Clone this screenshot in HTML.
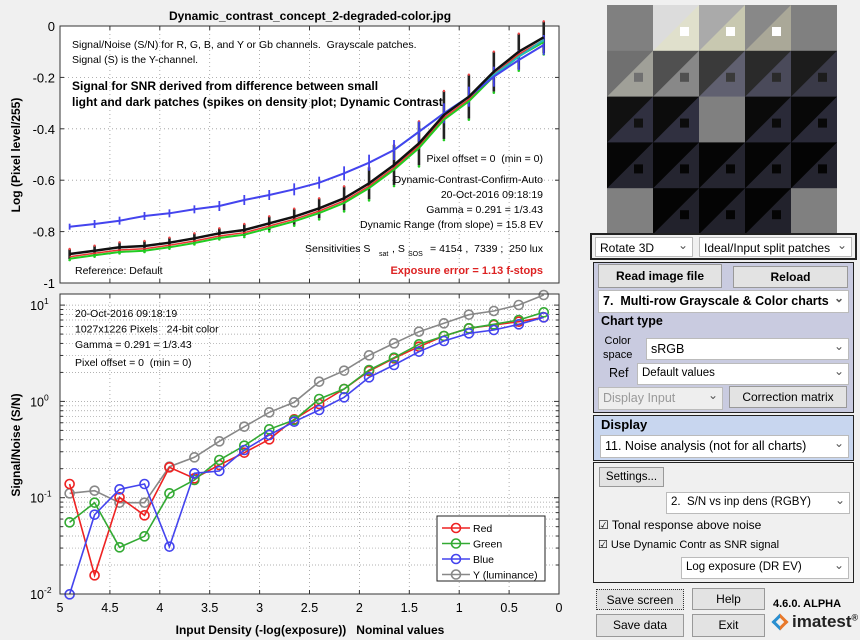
<!DOCTYPE html>
<html><head><meta charset="utf-8">
<style>
body{margin:0;width:860px;height:640px;background:#f0f0f0;font-family:"Liberation Sans",sans-serif;position:relative;overflow:hidden}
.a{position:absolute;box-sizing:border-box}
.sel{position:absolute;box-sizing:border-box;background:#fff;border:1px solid #bbb;font-size:12px;padding:3px 4px;white-space:nowrap;overflow:hidden}
.sel:after{content:"⌄";position:absolute;right:4px;top:0px;color:#555;font-size:12px}
.btn{position:absolute;box-sizing:border-box;background:#e3e3e3;border:1px solid #999;font-size:12px;text-align:center;line-height:20px}
svg text{white-space:pre}
</style></head><body>
<svg id="s" width="590" height="640" style="position:absolute;left:0;top:0" font-family="Liberation Sans, sans-serif"></svg>

<svg class="a" style="left:607px;top:5px" width="230" height="229">
<g id="g"></g>
</svg>

<div class="a" style="left:590px;top:233px;width:267px;height:27px;border:2px solid #222;background:#f0f0f0"></div>
<div class="sel" style="left:595px;top:237px;width:98px;height:20px">Rotate 3D</div>
<div class="sel" style="left:699px;top:237px;width:153px;height:20px">Ideal/Input split patches</div>

<div class="a" style="left:593px;top:262px;width:261px;height:151px;border:1px solid #222;background:#c9cbe0"></div>
<div class="btn" style="left:598px;top:264px;width:124px;height:24px;font-weight:bold;line-height:22px">Read image file</div>
<div class="btn" style="left:733px;top:266px;width:115px;height:22px;font-weight:bold">Reload</div>
<div class="sel" style="left:598px;top:290px;width:251px;height:23px;font-weight:bold;font-size:12.5px">7.&nbsp; Multi-row Grayscale &amp; Color charts</div>
<div class="a" style="left:601px;top:314px;font-size:12.5px;font-weight:bold">Chart type</div>
<div class="a" style="left:603px;top:334px;font-size:11px;text-align:center;line-height:14px">Color<br>space</div>
<div class="sel" style="left:646px;top:338px;width:203px;height:22px;font-size:12.5px">sRGB</div>
<div class="a" style="left:609px;top:366px;font-size:12.5px">Ref</div>
<div class="sel" style="left:637px;top:363px;width:212px;height:22px;font-size:11.5px">Default values</div>
<div class="sel" style="left:598px;top:387px;width:125px;height:23px;color:#999;background:#eee;font-size:12.5px">Display Input</div>
<div class="btn" style="left:729px;top:386px;width:118px;height:22px">Correction matrix</div>

<div class="a" style="left:593px;top:415px;width:261px;height:46px;border:1px solid #222;background:#c8d6ef"></div>
<div class="a" style="left:601px;top:417px;font-size:13px;font-weight:bold">Display</div>
<div class="sel" style="left:600px;top:435px;width:249px;height:23px;font-size:12.5px">11. Noise analysis (not for all charts)</div>

<div class="a" style="left:593px;top:462px;width:261px;height:121px;border:1px solid #222;background:#f0f0f0"></div>
<div class="btn" style="left:599px;top:467px;width:65px;height:20px;line-height:18px;font-size:11.5px">Settings...</div>
<div class="sel" style="left:666px;top:492px;width:184px;height:22px;font-size:11.5px">2.&nbsp; S/N vs inp dens (RGBY)</div>
<div class="a" style="left:598px;top:518px;font-size:12px">&#9745; Tonal response above noise</div>
<div class="a" style="left:598px;top:538px;font-size:11px">&#9745; Use Dynamic Contr as SNR signal</div>
<div class="sel" style="left:681px;top:557px;width:168px;height:22px;font-size:11.5px">Log exposure (DR EV)</div>

<div class="btn" style="left:596px;top:589px;width:88px;height:21px;border:1px dotted #333">Save screen</div>
<div class="btn" style="left:692px;top:588px;width:73px;height:22px">Help</div>
<div class="btn" style="left:596px;top:614px;width:88px;height:23px">Save data</div>
<div class="btn" style="left:692px;top:614px;width:73px;height:23px">Exit</div>
<div class="a" style="left:773px;top:598px;font-size:11px;font-weight:bold">4.6.0. ALPHA</div>
<div class="a" style="left:772px;top:614px;width:16px;height:16px;border:4px solid #e8792b;border-left-color:#2a8fd0;border-bottom-color:#2a8fd0;transform:rotate(45deg) scale(.75)"></div>
<div class="a" style="left:792px;top:612px;font-size:17px;font-weight:bold;color:#222">imatest<sup style="font-size:9px">®</sup></div>

<script>
const NS="http://www.w3.org/2000/svg";
const s=document.getElementById('s');
function el(t,a,txt){const e=document.createElementNS(NS,t);for(const k in a)e.setAttribute(k,a[k]);if(txt!=null)e.textContent=txt;s.appendChild(e);return e;}
const L=60,R=559;
const GX=i=>L+i*(R-L)/10;
// ---- top plot
const T0=26,T1=283;
el('rect',{x:L,y:T0,width:R-L,height:T1-T0,fill:'#fff'});
for(let i=1;i<10;i++){const x=GX(i);el('line',{x1:x,x2:x,y1:T0,y2:T1,stroke:'#999','stroke-dasharray':'1,3','stroke-width':0.8});}
for(let i=1;i<5;i++){const y=T0+i*(T1-T0)/5;el('line',{x1:L,x2:R,y1:y,y2:y,stroke:'#999','stroke-dasharray':'1,3','stroke-width':0.8});}
const zx=i=>(185+i*66.3)/2.657;
const blueT=[680,672,662,648,640,628,618,600,585,568,548,520,488,450,395,340,290,230,180,135];
const blkT=[762,752,742,738,728,715,700,690,670,650,625,595,550,495,430,345,290,215,155,112];
const cyanT=[null,null,null,null,null,null,null,null,null,null,null,null,null,450,395,340,290,225,170,120];
function pl(arr,off,col,w){let p='';arr.forEach((v,i)=>{if(v==null)return;p+=(p?'L':'M')+zx(i).toFixed(1)+','+((v+off)/3).toFixed(1);});el('path',{d:p,fill:'none',stroke:col,'stroke-width':w});}
blkT.forEach((v,i)=>{const h=[5,5,5,5,5,5,5,6,7,8,10,12,16,20,22,24,22,20,18,16][i];const y=v/3;el('line',{x1:zx(i),x2:zx(i),y1:y-h,y2:y+h,stroke:'#222','stroke-width':2.6});
 el('circle',{cx:zx(i),cy:y+h+1,r:1.3,fill:'#2c2'});el('circle',{cx:zx(i),cy:y-h,r:1.2,fill:'#e44'});});
blueT.forEach((v,i)=>{const h=[3,4,4,4,4,4,5,5,5,6,6,7,8,10,10,10,10,10,10,10][i];const y=v/3;el('line',{x1:zx(i),x2:zx(i),y1:y-h,y2:y+h,stroke:'#44e','stroke-width':1.8});});
pl(blkT,8,'#e33',1.5);pl(blkT,14,'#2c2',2);pl(cyanT,0,'#2bb',2);pl(blueT,0,'#44e',2);pl(blkT,0,'#111',2.5);
el('rect',{x:L,y:T0,width:R-L,height:T1-T0,fill:'none',stroke:'#333','stroke-width':1});
for(let i=0;i<=10;i++){const x=GX(i);el('line',{x1:x,x2:x,y1:T1,y2:T1-4,stroke:'#333'});el('line',{x1:x,x2:x,y1:T0,y2:T0+4,stroke:'#333'});}
['0','-0.2','-0.4','-0.6','-0.8','-1'].forEach((t,i)=>{const y=T0+i*(T1-T0)/5;el('text',{x:55,y:y+5,'text-anchor':'end','font-size':13},t);el('line',{x1:L,x2:L+4,y1:y,y2:y,stroke:'#333'});el('line',{x1:R,x2:R-4,y1:y,y2:y,stroke:'#333'});});
el('text',{x:310,y:20,'text-anchor':'middle','font-size':12,'font-weight':'bold'},'Dynamic_contrast_concept_2-degraded-color.jpg');
el('text',{x:20,y:155,'text-anchor':'middle','font-size':12,'font-weight':'bold',transform:'rotate(-90 20 155)'},'Log (Pixel level/255)');
el('text',{x:72,y:48,'font-size':10.5},'Signal/Noise (S/N) for R, G, B, and Y or Gb channels.  Grayscale patches.');
el('text',{x:72,y:63,'font-size':10.5},'Signal (S) is the Y-channel.');
el('text',{x:72,y:90,'font-size':12,'font-weight':'bold'},'Signal for SNR derived from difference between small');
el('text',{x:72,y:106,'font-size':12,'font-weight':'bold'},'light and dark patches (spikes on density plot; Dynamic Contrast');
[['Pixel offset = 0  (min = 0)',162],['Dynamic-Contrast-Confirm-Auto',183],['20-Oct-2016 09:18:19',198],['Gamma = 0.291 = 1/3.43',213],['Dynamic Range (from slope) = 15.8 EV',228]].forEach(a=>el('text',{x:543,y:a[1],'text-anchor':'end','font-size':10.5},a[0]));
el('text',{x:305,y:252,'font-size':10.5},'Sensitivities S');
el('text',{x:379,y:256,'font-size':7},'sat');
el('text',{x:392,y:252,'font-size':10.5},', S');
el('text',{x:408,y:256,'font-size':7},'SOS');
el('text',{x:543,y:252,'text-anchor':'end','font-size':10.5},'= 4154 ,  7339 ;  250 lux');
el('text',{x:543,y:274,'text-anchor':'end','font-size':11,'font-weight':'bold',fill:'#d22'},'Exposure error = 1.13 f-stops');
el('text',{x:75,y:274,'font-size':10.5},'Reference: Default');
// ---- bottom plot
const B0=294,B1=594,dec=96.3;
const Y=lg=>B1-(lg+2)*dec;
el('rect',{x:L,y:B0,width:R-L,height:B1-B0,fill:'#fff'});
for(let dd=-2;dd<1.2;dd++)for(let m=1;m<10;m++){const y=Y(dd+Math.log10(m));if(y<B0||y>=B1)continue;el('line',{x1:L,x2:R,y1:y,y2:y,stroke:'#999','stroke-dasharray':'1,2','stroke-width':0.7});el('line',{x1:L,x2:L+(m==1?5:3),y1:y,y2:y,stroke:'#333'});el('line',{x1:R,x2:R-(m==1?5:3),y1:y,y2:y,stroke:'#333'});}
for(let i=1;i<10;i++){const x=GX(i);el('line',{x1:x,x2:x,y1:B0,y2:B1,stroke:'#999','stroke-dasharray':'1,3','stroke-width':0.8});}
const red=[612,886,652,706,562,595,555,518,478,418,372,327,273,235,200,168,145,135,125,112];
const grn=[727,668,802,769,640,600,540,497,448,420,357,327,270,233,193,168,145,133,120,97];
const blu=[943,704,628,612,800,580,573,510,465,425,390,352,292,255,215,183,160,150,133,112];
const gry=[640,632,668,668,560,532,484,440,397,367,305,272,226,190,155,130,104,93,75,45];
function ser(arr,col){let p='';arr.forEach((v,i)=>{p+=(i?'L':'M')+zx(i).toFixed(1)+','+(280+v/3).toFixed(1);});el('path',{d:p,fill:'none',stroke:col,'stroke-width':1.6});arr.forEach((v,i)=>el('circle',{cx:zx(i),cy:280+v/3,r:4.5,fill:'none',stroke:col,'stroke-width':1.6}));}
ser(gry,'#888');ser(red,'#e22');ser(grn,'#3a3');ser(blu,'#44e');
el('rect',{x:L,y:B0,width:R-L,height:B1-B0,fill:'none',stroke:'#333'});
const lab=['5','4.5','4','3.5','3','2.5','2','1.5','1','0.5','0'];
for(let i=0;i<=10;i++){const x=GX(i);el('line',{x1:x,x2:x,y1:B1,y2:B1-4,stroke:'#333'});el('line',{x1:x,x2:x,y1:B0,y2:B0+4,stroke:'#333'});
 el('text',{x:x,y:612,'text-anchor':'middle','font-size':12.5},lab[i]);}
[[1,'1'],[0,'0'],[-1,'-1'],[-2,'-2']].forEach(a=>{const y=Y(a[0]);el('text',{x:44,y:y+5,'text-anchor':'end','font-size':12.5},'10');el('text',{x:44,y:y-1,'font-size':8.5},a[1]);});
el('text',{x:20,y:445,'text-anchor':'middle','font-size':12,'font-weight':'bold',transform:'rotate(-90 20 445)'},'Signal/Noise (S/N)');
el('text',{x:310,y:634,'text-anchor':'middle','font-size':12,'font-weight':'bold'},'Input Density (-log(exposure))   Nominal values');
['20-Oct-2016 09:18:19','1027x1226 Pixels   24-bit color','Gamma = 0.291 = 1/3.43'].forEach((t,i)=>el('text',{x:75,y:317+i*15.5,'font-size':10.5},t));
el('text',{x:75,y:366,'font-size':10.5},'Pixel offset = 0  (min = 0)');
el('rect',{x:437,y:516,width:108,height:65,fill:'#fff',stroke:'#222'});
[['Red','#e22'],['Green','#3a3'],['Blue','#44e'],['Y (luminance)','#888']].forEach((a,i)=>{const y=528+i*15.5;el('line',{x1:442,x2:470,y1:y,y2:y,stroke:a[1],'stroke-width':1.6});el('circle',{cx:456,cy:y,r:4.5,fill:'none',stroke:a[1],'stroke-width':1.6});el('text',{x:473,y:y+4,'font-size':10.5},a[0]);});
// patch grid
const g=document.getElementById('g');
const base=[['#808080','#dcdcdc','#aaaaaa','#888888','#808080'],['#707070','#505050','#3a3a3a','#2a2a2a','#1c1c1c'],['#111','#0c0c0c','#808080','#0a0a0a','#080808'],['#060606','#050505','#050505','#050505','#040404'],['#808080','#040404','#040404','#040404','#808080']];
const tri=[['','#e0e0cc','#c8c8b0','#aaa898',''],['#a0a098','#888888','#606070','#4a4a5a','#3a3a48'],['#303040','#303040','','#2a2a38','#2a2a38'],['#252530','#252530','#252530','#252530','#252530'],['','#22222c','#22222c','#22222c','']];
const w=46;
for(let r=0;r<5;r++)for(let c=0;c<5;c++){const x=c*w,y=r*45.8;
 const rc=document.createElementNS(NS,'rect');rc.setAttribute('x',x);rc.setAttribute('y',y);rc.setAttribute('width',w);rc.setAttribute('height',46);rc.setAttribute('fill',base[r][c]);g.appendChild(rc);
 if(tri[r][c]){const p=document.createElementNS(NS,'polygon');p.setAttribute('points',`${x},${y+46} ${x+w},${y} ${x+w},${y+46}`);p.setAttribute('fill',tri[r][c]);g.appendChild(p);
  const q=document.createElementNS(NS,'rect');q.setAttribute('x',x+27);q.setAttribute('y',y+22);q.setAttribute('width',9);q.setAttribute('height',9);q.setAttribute('fill',r==0?'#fff':base[r][c]);g.appendChild(q);}}
</script>
</body></html>
